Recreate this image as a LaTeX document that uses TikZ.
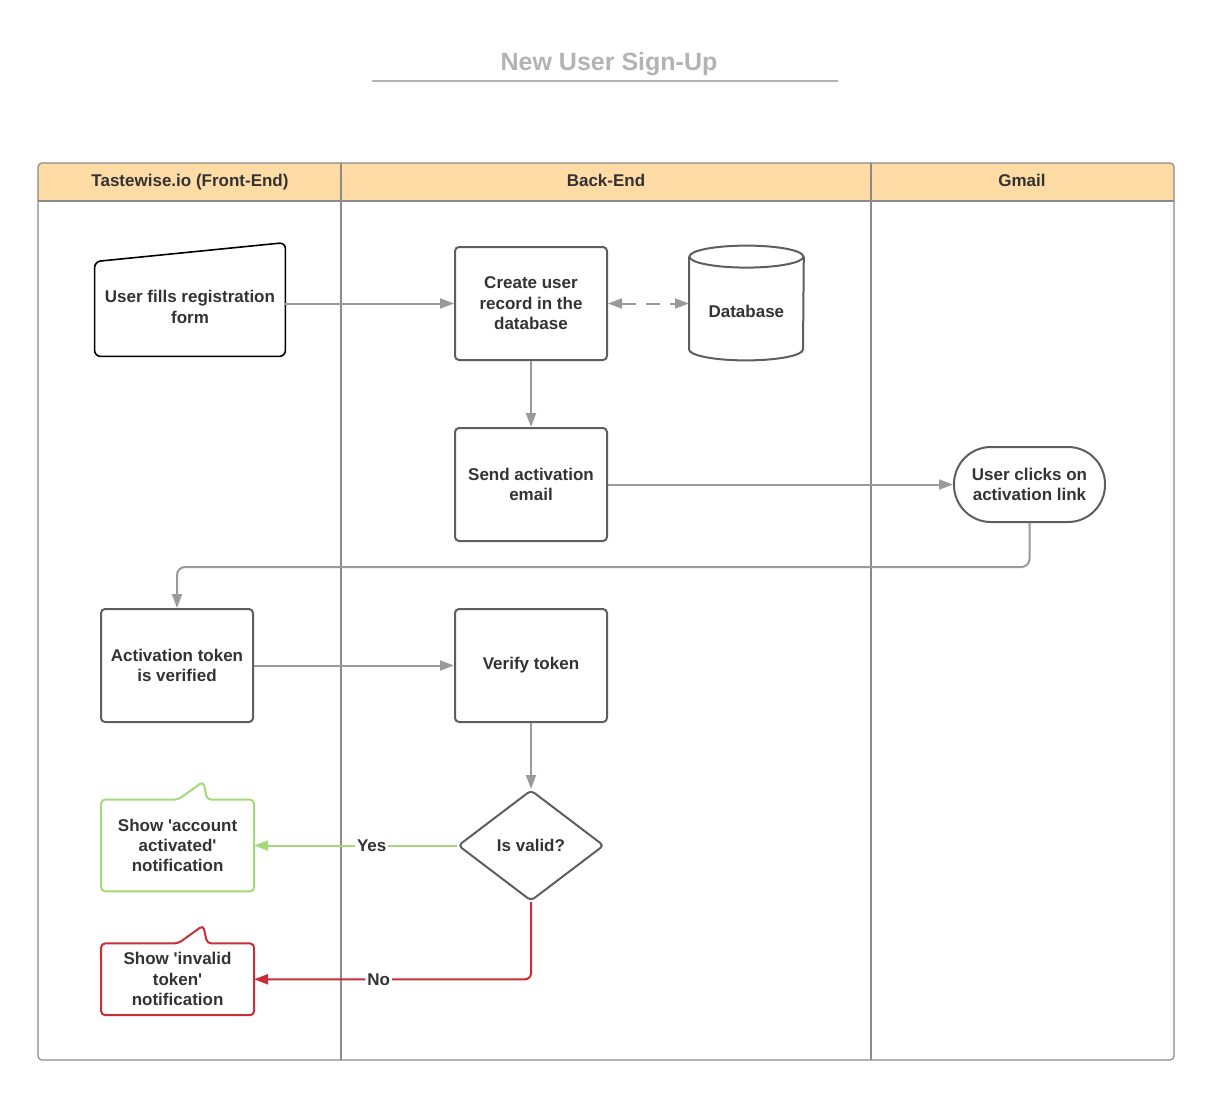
\documentclass[tikz,border=0pt]{standalone}
\usepackage{fontspec}
\setmainfont{Liberation Sans}
\usetikzlibrary{shapes, positioning, calc, arrows.meta}

\definecolor{txtgray}{HTML}{333333}
\definecolor{titlegray}{HTML}{B3B3B3}
\definecolor{boxgray}{HTML}{5E5E5E}
\definecolor{linegray}{HTML}{9A9A9A}
\definecolor{poolgray}{HTML}{8A8A8A}
\definecolor{hdrfill}{HTML}{FFDBA6}
\definecolor{okgreen}{HTML}{A3D977}
\definecolor{badred}{HTML}{C92D39}

\begin{document}
\begin{tikzpicture}[x=0.5pt, y=-0.5pt, font=\bfseries\fontsize{8.5}{10.2}\selectfont, text=txtgray]
  \newcommand\stepminwidth{76pt}
  \newcommand\stepminheight{56.5pt}
  \newcommand\stepgap{33pt}
  \tikzset{
    stepbox/.style={draw=boxgray, line width=1pt, rounded corners=2pt, minimum width=\stepminwidth, minimum height=\stepminheight, align=center, inner sep=2pt},
    flow/.style={draw=linegray, line width=1pt, -{Triangle[length=7pt, width=5pt]}},
    flowlabel/.style={fill=white, inner sep=1pt},
  }

  \useasboundingbox (0,0) rectangle (1212,1098);

  % title
  \node[text=titlegray, font=\bfseries\fontsize{12.5}{15}\selectfont] (title) at (609,64) {New User Sign-Up};
  \draw[titlegray, line width=1pt] (372,81) -- (838,81);

  % pool and lanes
  \path[fill=hdrfill] (38,201) [rounded corners=2pt] -- (38,163) -- (1174,163) [sharp corners] -- (1174,201) -- cycle;
  \draw[poolgray, line width=0.6pt, rounded corners=2pt] (38,163) rectangle (1174,1060);
  \draw[poolgray, line width=0.6pt] (38,201) -- (1174,201);
  \draw[poolgray, line width=0.6pt] (341,163) -- (341,1060);
  \draw[poolgray, line width=0.6pt] (871,163) -- (871,1060);
  \node[anchor=base] (lanefront) at (190,186) {Tastewise.io (Front-End)};
  \node[anchor=base] (laneback) at (606,186) {Back-End};
  \node[anchor=base] (lanemail) at (1022,186) {Gmail};

  % steps
  \node[stepbox] at (531,303.5) (create) {Create user\\record in the\\database};
  \node[stepbox, below=\stepgap of create] (send) {Send activation\\email};
  \node[stepbox, below=\stepgap of send] (verify) {Verify token};
  \node[stepbox, left=100pt of verify] (tokenok) {Activation token\\is verified};
  \node[draw=boxgray, line width=1pt, diamond, aspect=1.3, inner sep=0pt, rounded corners=2pt, minimum width=73pt, minimum height=55.5pt, below=\stepgap of verify] (valid) {Is valid?};
  \node[draw=boxgray, line width=1pt, rounded corners=18.5pt, minimum width=75.5pt, minimum height=37.5pt, align=center, right=172.5pt of send] (clicks) {User clicks on\\activation link};

  % manual input
  \node[minimum width=95pt, minimum height=49pt, align=center] at (190,307) (form) {User fills registration\\form};
  \draw[black, line width=0.8pt, rounded corners=3pt] (form.south west) -- ($(form.north west)+(0,4)$) -- ($(form.north east)+(0,-15)$) -- (form.south east) -- cycle;

  % database
  \node[minimum width=57pt, minimum height=43pt, right=40.5pt of create, yshift=-3.75pt] (db) {Database};
  \draw[boxgray, line width=1pt] ($(db.north west)+(0,-11)$) -- ($(db.south west)+(0,-5)$) arc[start angle=180, end angle=360, x radius=28.5pt, y radius=5.5pt] -- ($(db.north east)+(0,-11)$);
  \draw[boxgray, line width=1pt] ($(db.north)+(0,-11)$) ellipse [x radius=28.5pt, y radius=5.5pt];

  % notifications
  \node[minimum width=\stepminwidth, minimum height=45.5pt, align=center, inner sep=2pt, left=101.5pt of valid] (shown) {Show \textquotesingle account\\activated\textquotesingle\\notification};
  \draw[okgreen, line width=1pt, rounded corners=2pt] (shown.south west) -- (shown.north west) -- ($(shown.north west)+(77,0)$) -- ($(shown.north west)+(102,-18)$) -- ($(shown.north west)+(106,0)$) -- (shown.north east) -- (shown.south east) -- cycle;
  \node[minimum width=\stepminwidth, minimum height=35.5pt, align=center, inner sep=1pt, below=26pt of shown] (invalid) {Show \textquotesingle invalid\\token\textquotesingle\\notification};
  \draw[badred, line width=1pt, rounded corners=2pt] (invalid.south west) -- (invalid.north west) -- ($(invalid.north west)+(77,0)$) -- ($(invalid.north west)+(102,-18)$) -- ($(invalid.north west)+(106,0)$) -- (invalid.north east) -- (invalid.south east) -- cycle;

  % connectors
  \draw[flow] (form.east |- create.west) -- (create.west);
  \draw[flow, {Triangle[length=7pt, width=5pt]}-{Triangle[length=7pt, width=5pt]}, dash pattern=on 7pt off 5pt] (create.east) -- (create.east -| db.west);
  \draw[flow] (create) -- (send);
  \draw[flow] (send) -- (clicks);
  \draw[flow, rounded corners=4pt] (clicks.south) -- ++(0,44) -| (tokenok.north);
  \draw[flow] (tokenok) -- (verify);
  \draw[flow] (verify) -- (valid);
  \draw[flow, draw=okgreen] (valid.west) -- node[flowlabel, pos=0.42] {Yes} (shown.east);
  \draw[flow, draw=badred, rounded corners=3pt] (valid.south) |- node[flowlabel, pos=0.775] {No} (invalid.east);
\end{tikzpicture}
\end{document}
